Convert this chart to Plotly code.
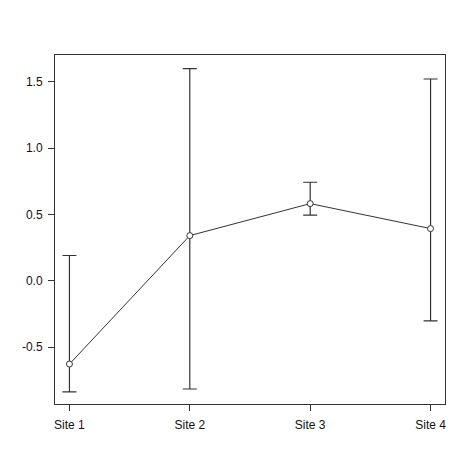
import plotly.graph_objects as go

# Site means with upper and lower interval limits
sites = ["Site 1", "Site 2", "Site 3", "Site 4"]
means = [-0.628, 0.340, 0.581, 0.393]
upper = [0.190, 1.598, 0.742, 1.520]
lower = [-0.837, -0.816, 0.494, -0.302]

err_plus = [u - m for u, m in zip(upper, means)]
err_minus = [m - l for m, l in zip(means, lower)]

ink = "#333333"

fig = go.Figure()
fig.add_trace(go.Scatter(
    x=sites,
    y=means,
    mode="lines+markers",
    line=dict(color=ink, width=1),
    marker=dict(symbol="circle", size=6, color="white",
                line=dict(color=ink, width=1)),
    error_y=dict(type="data", symmetric=False, array=err_plus,
                 arrayminus=err_minus, color=ink, thickness=1.2, width=7),
    showlegend=False,
))

axis_common = dict(
    showline=True, linecolor=ink, linewidth=1, mirror=True,
    showgrid=False, zeroline=False,
    ticks="outside", ticklen=6, tickwidth=1, tickcolor=ink,
    tickfont=dict(family="Liberation Sans, Arial, sans-serif", size=12, color="#111111"),
)

fig.update_xaxes(type="category", range=[-0.12, 3.12], ticklabelstandoff=4,
                 **axis_common)
fig.update_yaxes(range=[-0.929, 1.701], tickvals=[-0.5, 0.0, 0.5, 1.0, 1.5],
                 ticktext=["-0.5", "0.0", "0.5", "1.0", "1.5"],
                 ticklabelstandoff=3, **axis_common)

fig.update_layout(
    width=474, height=474,
    margin=dict(l=55, r=29, t=55, b=70),
    paper_bgcolor="white", plot_bgcolor="white",
)

fig.write_html("out.html")
